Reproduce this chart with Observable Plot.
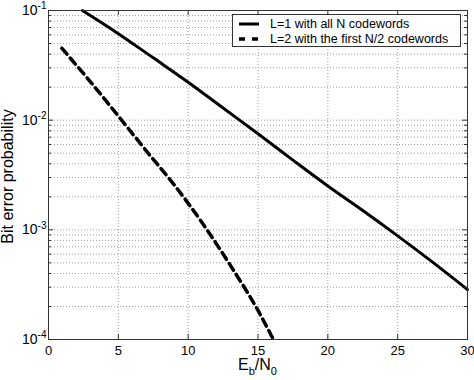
<!DOCTYPE html>
<html><head><meta charset="utf-8">
<script src="https://cdn.jsdelivr.net/npm/d3@7"></script>
<script src="https://cdn.jsdelivr.net/npm/@observablehq/plot@0.6"></script>
<style>body{margin:0;background:#fff}</style>
</head><body><div id="chart"></div>
<script>
// Series: L=1 with all N codewords (solid)
const solidX = [2.43, 5, 7.5, 10, 12.5, 15, 17.5, 20, 22.5, 25, 27.5, 30];
const solidY = [0.1, 0.0615, 0.037, 0.0222, 0.0129, 0.00752, 0.00432, 0.00251, 0.0015, 0.000881, 0.000507, 0.000285];
// Series: L=2 with the first N/2 codewords (dashed)
const dashX = [0.95, 3, 5, 7, 9, 11, 13, 15, 16.1];
const dashY = [0.0453, 0.0224, 0.0109, 0.00525, 0.00257, 0.00116, 0.000479, 0.000184, 0.0001];
// Tick labels / series names
const xTicks = [0, 5, 10, 15, 20, 25, 30];
const yMajor = [1e-4, 1e-3, 1e-2, 1e-1];
const seriesNames = ["L=1 with all N codewords", "L=2 with the first N/2 codewords"];
const xLabel = ["E", "b", "/N", "0"];
const yLabel = "Bit error probability";

const W = 474, H = 380, mL = 48, mR = 7, mT = 10, mB = 41;
const pw = W - mL - mR, ph = H - mT - mB;

const solid = solidX.map((x, i) => ({x, y: solidY[i]}));
const dashed = dashX.map((x, i) => ({x, y: dashY[i]}));
const yGrid = [];
for (let k = -4; k <= -2; k++) for (let m = 1; m <= 9; m++) yGrid.push(m * Math.pow(10, k));
yGrid.push(1e-1);
const yMinor = yGrid.filter(v => !yMajor.some(M => Math.abs(M - v) < 1e-12));

const font = "'Liberation Sans', Arial, Helvetica, sans-serif";
const gridStyle = {stroke: "#a0a0a0", strokeDasharray: "1,2", strokeWidth: 1};

const chart = Plot.plot({
  width: W, height: H,
  marginLeft: mL, marginRight: mR, marginTop: mT, marginBottom: mB,
  style: {fontFamily: font, fontSize: "13px", background: "#fff", color: "#000"},
  x: {domain: [0, 30]},
  y: {type: "log", domain: [1e-4, 1e-1]},
  marks: [
    Plot.ruleX(xTicks, {x: d => d, ...gridStyle}),
    Plot.ruleY(yGrid, {y: d => d, ...gridStyle}),
    Plot.line(solid, {x: "x", y: "y", stroke: "#000", strokeWidth: 3, curve: "monotone-x"}),
    Plot.line(dashed, {x: "x", y: "y", stroke: "#000", strokeWidth: 3.5, strokeDasharray: "8,5", curve: "monotone-x"}),
    Plot.tickX(xTicks, {x: d => d, insetTop: ph - 5, stroke: "#333"}),
    Plot.tickX(xTicks, {x: d => d, insetBottom: ph - 5, stroke: "#333"}),
    Plot.tickY(yMajor, {y: d => d, insetRight: pw - 5, stroke: "#333"}),
    Plot.tickY(yMajor, {y: d => d, insetLeft: pw - 5, stroke: "#333"}),
    Plot.tickY(yMinor, {y: d => d, insetRight: pw - 3, stroke: "#333"}),
    Plot.tickY(yMinor, {y: d => d, insetLeft: pw - 3, stroke: "#333"}),
    Plot.frame({stroke: "#333"}),
    Plot.axisX(xTicks, {tickSize: 0, tickPadding: 6, label: null, fontSize: 13}),
    Plot.axisY(yMajor, {tickSize: 0, tickPadding: 2, label: null, fontSize: 14,
      tickFormat: d => String(Math.round(Math.log10(d)))})
  ]
});
document.getElementById("chart").appendChild(chart);

const svg = d3.select(chart);
svg.selectAll('g[aria-label="y-axis tick label"] text').each(function () {
  const e = this.textContent;
  const t = d3.select(this);
  t.text(null);
  t.append("tspan").text("10");
  t.append("tspan").attr("dy", "-0.55em").attr("font-size", "10px").text(e);
});

// x label with subscripts
const xl = svg.append("text").attr("x", mL + pw / 2).attr("y", 370)
  .attr("text-anchor", "middle").attr("font-size", 16).attr("font-family", font).attr("fill", "#000");
xl.append("tspan").text(xLabel[0]);
xl.append("tspan").attr("dy", 5).attr("font-size", 11).text(xLabel[1]);
xl.append("tspan").attr("dy", -5).text(xLabel[2]);
xl.append("tspan").attr("dy", 5).attr("font-size", 11).text(xLabel[3]);

// y label
svg.append("text").attr("transform", "translate(12.5,176.5) rotate(-90)")
  .attr("text-anchor", "middle").attr("font-size", 16).attr("font-family", font).attr("fill", "#000")
  .text(yLabel);

// legend
const lg = svg.append("g");
lg.append("rect").attr("x", 232.5).attr("y", 14.5).attr("width", 228).attr("height", 32)
  .attr("fill", "#fff").attr("stroke", "#333");
lg.append("line").attr("x1", 239).attr("x2", 259).attr("y1", 24).attr("y2", 24)
  .attr("stroke", "#000").attr("stroke-width", 3);
lg.append("line").attr("x1", 239).attr("x2", 259).attr("y1", 39).attr("y2", 39)
  .attr("stroke", "#000").attr("stroke-width", 3.5).attr("stroke-dasharray", "6,7");
seriesNames.forEach((s, i) => {
  lg.append("text").attr("x", 270).attr("y", 28 + i * 14.5).attr("font-size", 12.5)
    .attr("text-anchor", "start")
    .attr("font-family", font).attr("fill", "#000").text(s);
});
</script>
</body></html>
